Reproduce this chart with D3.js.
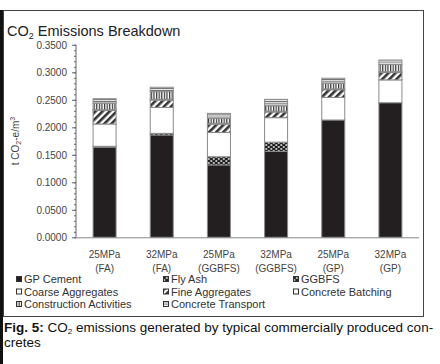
<!DOCTYPE html>
<html>
<head>
<meta charset="utf-8">
<script src="https://cdn.jsdelivr.net/npm/d3@7"></script>
<style>
  body { margin: 0; background: #fff; }
  svg { display: block; font-family: "Liberation Sans", Arial, sans-serif; }
</style>
</head>
<body>
<div id="viz"></div>
<script>
// data
var categories = ["25MPa|(FA)", "32MPa|(FA)", "25MPa|(GGBFS)", "32MPa|(GGBFS)", "25MPa|(GP)", "32MPa|(GP)"];
var gpCement     = [0.1640, 0.1860, 0.1315, 0.1560, 0.2133, 0.2447];
var flyAsh       = [0.0015, 0.0030, 0.0000, 0.0000, 0.0000, 0.0000];
var ggbfs        = [0.0000, 0.0000, 0.0150, 0.0170, 0.0000, 0.0000];
var coarseAgg    = [0.0405, 0.0470, 0.0440, 0.0445, 0.0410, 0.0415];
var fineAgg      = [0.0245, 0.0135, 0.0153, 0.0104, 0.0140, 0.0133];
var batching     = [0.0015, 0.0015, 0.0015, 0.0015, 0.0015, 0.0015];
var construction = [0.0120, 0.0138, 0.0090, 0.0097, 0.0104, 0.0135];
var transport    = [0.0080, 0.0080, 0.0090, 0.0117, 0.0090, 0.0078];
var yTicks = [0, 0.05, 0.10, 0.15, 0.20, 0.25, 0.30, 0.35];

var series = [
  {name: "GP Cement", vals: gpCement, fill: "#231f20"},
  {name: "Fly Ash", vals: flyAsh, fill: "url(#pFly)"},
  {name: "GGBFS", vals: ggbfs, fill: "url(#pGg)"},
  {name: "Coarse Aggregates", vals: coarseAgg, fill: "#fff"},
  {name: "Fine Aggregates", vals: fineAgg, fill: "url(#pDiag)"},
  {name: "Concrete Batching", vals: batching, fill: "#fff"},
  {name: "Construction Activities", vals: construction, fill: "url(#pVert)"},
  {name: "Concrete Transport", vals: transport, fill: "url(#pHor)"}
];

var svg = d3.select("#viz").append("svg").attr("width", 440).attr("height", 364);

// patterns
var defs = svg.append("defs");
var p = defs.append("pattern").attr("id", "pDiag").attr("patternUnits", "userSpaceOnUse")
  .attr("width", 5).attr("height", 5).attr("patternTransform", "rotate(45)");
p.append("rect").attr("width", 5).attr("height", 5).attr("fill", "#fff");
p.append("rect").attr("width", 2.6).attr("height", 5).attr("fill", "#333");
p = defs.append("pattern").attr("id", "pVert").attr("patternUnits", "userSpaceOnUse")
  .attr("width", 2.6).attr("height", 4);
p.append("rect").attr("width", 2.6).attr("height", 4).attr("fill", "#fff");
p.append("rect").attr("width", 1.2).attr("height", 4).attr("fill", "#333");
p = defs.append("pattern").attr("id", "pHor").attr("patternUnits", "userSpaceOnUse")
  .attr("width", 4).attr("height", 2.2);
p.append("rect").attr("width", 4).attr("height", 2.2).attr("fill", "#fff");
p.append("rect").attr("width", 4).attr("height", 1).attr("fill", "#666");
["pFly", "pGg"].forEach(function (id) {
  var q = defs.append("pattern").attr("id", id).attr("patternUnits", "userSpaceOnUse")
    .attr("width", 5).attr("height", 4);
  q.append("rect").attr("width", 5).attr("height", 4).attr("fill", "#222");
  q.append("ellipse").attr("cx", 1.3).attr("cy", 1).attr("rx", 1.2).attr("ry", 0.8).attr("fill", "#fff");
  q.append("ellipse").attr("cx", 3.8).attr("cy", 3).attr("rx", 1.2).attr("ry", 0.8).attr("fill", "#fff");
});

// frame
svg.append("rect").attr("x", 3.5).attr("y", 10.5).attr("width", 420).attr("height", 306)
  .attr("fill", "none").attr("stroke", "#444").attr("stroke-width", 1);
svg.append("rect").attr("x", 0).attr("y", 10).attr("width", 3).attr("height", 354).attr("fill", "#111");

// title
var title = svg.append("text").attr("x", 7).attr("y", 36).attr("font-size", 14.5).attr("fill", "#222");
title.append("tspan").text("CO");
title.append("tspan").attr("font-size", 9).attr("dy", 3).text("2");
title.append("tspan").attr("dy", -3).text(" Emissions Breakdown");

var x = d3.scaleBand().domain(categories).range([76, 419]).paddingInner(0.58).paddingOuter(0.29);
var y = d3.scaleLinear().domain([0, 0.35]).range([237.3, 44.8]);

// stacked bars
var stackData = categories.map(function (c, i) {
  var o = {cat: c};
  series.forEach(function (s) { o[s.name] = s.vals[i]; });
  return o;
});
var stack = d3.stack().keys(series.map(function (s) { return s.name; }))(stackData);
stack.forEach(function (layer, li) {
  svg.append("g").selectAll("rect").data(layer.filter(function (d) { return d[1] - d[0] > 0; }))
    .enter().append("rect")
    .attr("x", function (d) { return x(d.data.cat) + 0.5; })
    .attr("width", x.bandwidth() - 1)
    .attr("y", function (d) { return y(d[1]); })
    .attr("height", function (d) { return y(d[0]) - y(d[1]); })
    .attr("fill", series[li].fill)
    .attr("stroke", "#8a8a8a").attr("stroke-width", 1);
});

// y axis
var minor = d3.range(0, 0.3501, 0.01);
svg.append("g").attr("transform", "translate(76,0)")
  .call(d3.axisLeft(y).tickValues(minor).tickSize(2).tickFormat(""))
  .call(function (g) { g.select(".domain").remove(); g.selectAll("line").attr("stroke", "#666"); });
var ya = svg.append("g").attr("transform", "translate(76,0)")
  .call(d3.axisLeft(y).tickValues(yTicks).tickSize(4).tickPadding(5).tickFormat(d3.format(".4f")));
ya.select(".domain").attr("stroke", "#666").attr("d", "M0," + y(0) + "V" + y(0.35));
ya.selectAll("line").attr("stroke", "#666");
ya.selectAll("text").attr("font-size", 10).attr("fill", "#444")
  .attr("font-family", "Liberation Sans, Arial, sans-serif");

// x axis line
svg.append("line").attr("x1", 76).attr("x2", 419).attr("y1", y(0) + 0.5).attr("y2", y(0) + 0.5)
  .attr("stroke", "#888");
var xl = svg.append("g").selectAll("text").data(categories).enter().append("text")
  .attr("text-anchor", "middle").attr("font-size", 10).attr("fill", "#444");
xl.append("tspan").attr("x", function (d) { return x(d) + x.bandwidth() / 2; }).attr("y", 258)
  .text(function (d) { return d.split("|")[0]; });
xl.append("tspan").attr("x", function (d) { return x(d) + x.bandwidth() / 2; }).attr("y", 272)
  .text(function (d) { return d.split("|")[1]; });

// y label
var yl = svg.append("text").attr("transform", "translate(19,141) rotate(-90)")
  .attr("text-anchor", "middle").attr("font-size", 10).attr("fill", "#444");
yl.append("tspan").text("t CO");
yl.append("tspan").attr("font-size", 7).attr("dy", 2).text("2");
yl.append("tspan").attr("dy", -2).text("-e/m");
yl.append("tspan").attr("font-size", 7).attr("dy", -4).text("3");

// legend
var legendOrder = ["GP Cement", "Fly Ash", "GGBFS", "Coarse Aggregates", "Fine Aggregates",
  "Concrete Batching", "Construction Activities", "Concrete Transport"];
var colX = [16, 163, 293];
var lg = svg.append("g").selectAll("g").data(legendOrder).enter().append("g")
  .attr("transform", function (d, i) { return "translate(" + colX[i % 3] + "," + (283 + Math.floor(i / 3) * 12.5) + ")"; });
lg.append("rect").attr("x", 0.5).attr("y", -6.5).attr("width", 5).attr("height", 5)
  .attr("fill", function (d) { return series.find(function (s) { return s.name === d; }).fill; })
  .attr("stroke", "#333").attr("stroke-width", 1);
lg.append("text").attr("x", 8).attr("y", 0).attr("font-size", 11).attr("fill", "#333")
  .text(function (d) { return d; });

// caption
var cap = svg.append("text").attr("x", 4).attr("y", 332).attr("font-size", 13.5).attr("fill", "#111");
cap.append("tspan").attr("font-weight", "bold").text("Fig. 5:");
cap.append("tspan").text(" CO");
cap.append("tspan").attr("font-size", 8).attr("dy", 2).text("2");
cap.append("tspan").attr("dy", -2).text(" emissions generated by typical commercially produced con-");
svg.append("text").attr("x", 4).attr("y", 347).attr("font-size", 13.5).attr("fill", "#111").text("cretes");
</script>
</body>
</html>
